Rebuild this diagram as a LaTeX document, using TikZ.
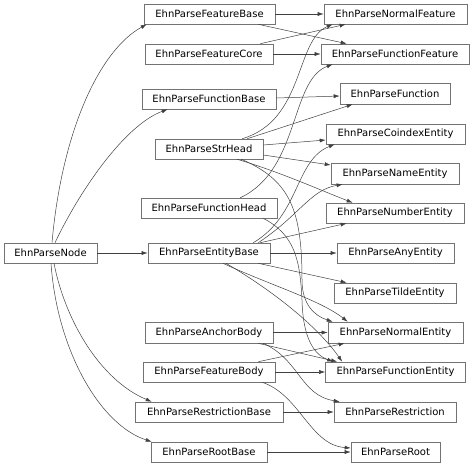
\documentclass[tikz,border=0pt]{standalone}
\usepackage{fontspec}
\setmainfont{DejaVu Sans}
\usetikzlibrary{arrows.meta}
\tikzset{
  cls/.style={draw=black!55, line width=0.6pt, minimum height=20pt, inner sep=0pt, font=\fontsize{10}{12}\selectfont},
  inh/.style={draw=black!75, line width=0.5pt, -{Latex[length=6pt,width=4pt]}}
}
\begin{document}
\begin{tikzpicture}[x=1pt,y=-1pt]
\useasboundingbox (0,0) rectangle (474,467);
% left
\node[cls, minimum width=93pt] (node) at (50.5,253) {EhnParseNode};
% middle
\node[cls, minimum width=131pt] (fbase) at (209.5,14) {EhnParseFeatureBase};
\node[cls, minimum width=128pt] (fcore) at (209,54) {EhnParseFeatureCore};
\node[cls, minimum width=134pt] (funcbase) at (209,99) {EhnParseFunctionBase};
\node[cls, minimum width=108pt] (strhead) at (209,149) {EhnParseStrHead};
\node[cls, minimum width=136pt] (funchead) at (209,208) {EhnParseFunctionHead};
\node[cls, minimum width=122pt] (entbase) at (209,253) {EhnParseEntityBase};
\node[cls, minimum width=128pt, minimum height=21pt] (anchor) at (209,332.5) {EhnParseAnchorBody};
\node[cls, minimum width=132pt] (fbody) at (209,372) {EhnParseFeatureBody};
\node[cls, minimum width=148pt] (rbase) at (209,412) {EhnParseRestrictionBase};
\node[cls, minimum width=116pt] (rootbase) at (209,452) {EhnParseRootBase};
% right
\node[cls, minimum width=143pt] (nfeat) at (395.5,14) {EhnParseNormalFeature};
\node[cls, minimum width=148pt] (ffeat) at (395,54) {EhnParseFunctionFeature};
\node[cls, minimum width=110pt, minimum height=21pt] (func) at (395,93.5) {EhnParseFunction};
\node[cls, minimum width=139pt] (coidx) at (395.5,134) {EhnParseCoindexEntity};
\node[cls, minimum width=128pt, minimum height=21pt] (name) at (395,173.5) {EhnParseNameEntity};
\node[cls, minimum width=138pt] (number) at (395,213) {EhnParseNumberEntity};
\node[cls, minimum width=117pt] (any) at (395.5,253) {EhnParseAnyEntity};
\node[cls, minimum width=122pt] (tilde) at (395,293) {EhnParseTildeEntity};
\node[cls, minimum width=135pt, minimum height=21pt] (nent) at (395.5,332.5) {EhnParseNormalEntity};
\node[cls, minimum width=140pt] (fent) at (395.5,372) {EhnParseFunctionEntity};
\node[cls, minimum width=122pt] (restr) at (395,412) {EhnParseRestriction};
\node[cls, minimum width=89pt] (root) at (395.5,452) {EhnParseRoot};

% EhnParseNode
\draw[inh] ([xshift=1.5pt]node.north) .. controls (62,130) and (100,50) .. ([xshift=3pt]fbase.south west);
\draw[inh] ([xshift=4.5pt]node.north) .. controls (80,190) and (125,125) .. ([xshift=26pt]funcbase.south west);
\draw[inh] (node.east) -- (entbase.west);
\draw[inh] ([xshift=3.5pt]node.south) .. controls (65,320) and (100,380) .. ([xshift=17pt]rbase.north west);
\draw[inh] ([xshift=0.5pt]node.south) .. controls (57,350) and (100,425) .. ([xshift=1pt]rootbase.north west);
% features
\draw[inh] (fbase.east) -- (nfeat.west);
\draw[inh] ([xshift=-17pt]fbase.south east) -- ([xshift=26pt]ffeat.north west);
\draw[inh] ([xshift=-13pt]fcore.north east) -- ([xshift=22pt]nfeat.south west);
\draw[inh] (fcore.east) -- (ffeat.west);
\draw[inh] ([yshift=1pt]funcbase.east) -- ([yshift=-2.5pt]func.west);
% StrHead
\draw[inh] ([xshift=-21pt]strhead.north east) .. controls (305,120) and (295,40) .. ([xshift=9pt]nfeat.south west);
\draw[inh] ([xshift=-16pt]strhead.north east) -- ([xshift=13pt]func.south west);
\draw[inh] ([yshift=4pt]strhead.east) -- ([yshift=-6pt]coidx.west);
\draw[inh] ([yshift=-6pt]strhead.east) -- ([yshift=8.5pt]name.west);
\draw[inh] ([xshift=-26pt]strhead.south east) .. controls (280,172) and (320,190) .. ([xshift=27pt]number.north west);
\draw[inh] ([xshift=-22pt]strhead.south east) .. controls (290,180) and (302,210) .. (302,280) .. controls (302,305) and (315,316) .. ([xshift=5pt]nent.north west);
% FunctionHead
\draw[inh] ([xshift=-37pt]funchead.north east) .. controls (300,170) and (290,80) .. ([xshift=12pt]ffeat.south west);
\draw[inh] ([xshift=-14pt]funchead.south east) .. controls (295,235) and (300,260) .. (302,300) .. controls (303,340) and (315,355) .. ([xshift=8pt]fent.north west);
% EntityBase
\draw[inh] ([xshift=-17pt]entbase.north east) .. controls (300,215) and (295,160) .. ([xshift=9pt]coidx.south west);
\draw[inh] ([xshift=-12pt]entbase.north east) .. controls (300,215) and (310,190) .. ([xshift=12pt]name.south west);
\draw[inh] ([xshift=-10pt]entbase.north east) -- ([xshift=21pt]number.south west);
\draw[inh] (entbase.east) -- (any.west);
\draw[inh] ([xshift=-12pt]entbase.south east) -- ([xshift=13pt]tilde.north west);
\draw[inh] ([xshift=14pt]entbase.south) .. controls (270,285) and (320,300) .. ([xshift=20pt]nent.north west);
\draw[inh] ([xshift=17pt]entbase.south) .. controls (280,295) and (320,330) .. ([xshift=17pt]fent.north west);
% AnchorBody
\draw[inh] (anchor.east) -- (nent.west);
\draw[inh] ([xshift=-15pt]anchor.south east) -- ([xshift=12pt]fent.north west);
\draw[inh] ([xshift=-10pt]anchor.south east) .. controls (300,360) and (300,395) .. ([xshift=6pt]restr.north west);
% FeatureBody
\draw[inh] ([xshift=-17pt]fbody.north east) -- ([xshift=17pt]nent.south west);
\draw[inh] (fbody.east) -- (fent.west);
\draw[inh] ([xshift=-13pt]fbody.south east) .. controls (300,395) and (310,445) .. ([yshift=4pt]root.west);
% bases
\draw[inh] (rbase.east) -- (restr.west);
\draw[inh] (rootbase.east) -- (root.west);
\end{tikzpicture}
\end{document}
